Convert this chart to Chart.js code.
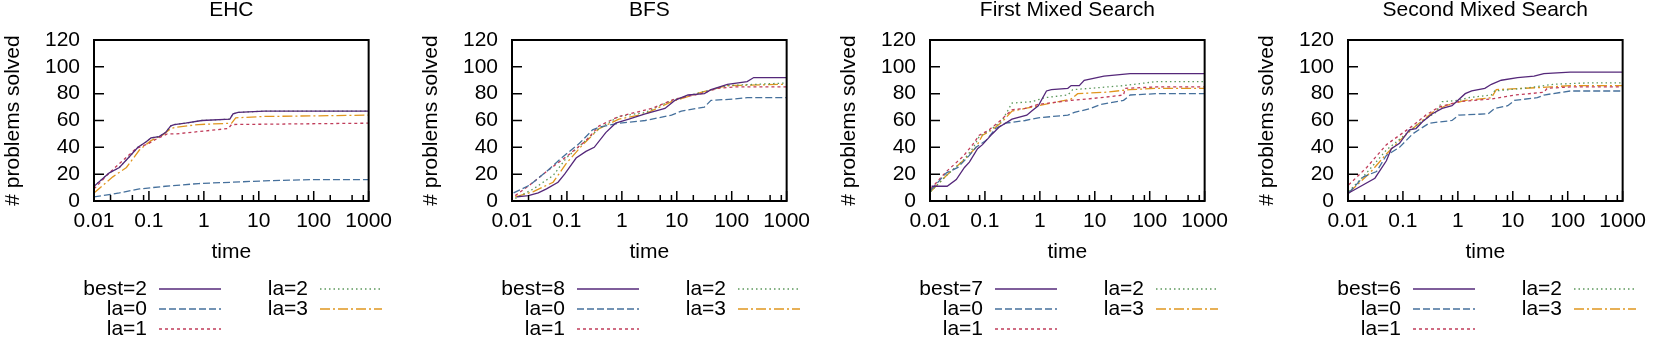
<!DOCTYPE html>
<html lang="en">
<head>
<meta charset="UTF-8">
<title>problems solved over time</title>
<script src="https://cdn.jsdelivr.net/npm/chart.js"></script>
<style>
  html, body { margin: 0; padding: 0; background: #fff; overflow: hidden; }
  .panel { position: absolute; top: 0; }
</style>
</head>
<body>
<div class="panel" style="left:0px"><canvas id="c0" width="400" height="338"></canvas></div>
<div class="panel" style="left:418px"><canvas id="c1" width="400" height="338"></canvas></div>
<div class="panel" style="left:836px"><canvas id="c2" width="400" height="338"></canvas></div>
<div class="panel" style="left:1254px"><canvas id="c3" width="400" height="338"></canvas></div>

<script>
const xTickValues = [0.01, 0.1, 1, 10, 100, 1000]
const xTickLabels = ['0.01', '0.1', '1', '10', '100', '1000']
const xMinorTicks = [0.02, 0.05, 0.08, 0.2, 0.5, 0.8, 2, 5, 8, 20, 50, 80, 200, 500, 800]
const yTickValues = [0, 20, 40, 60, 80, 100, 120]

const panelTitles = ['EHC', 'BFS', 'First Mixed Search', 'Second Mixed Search']
const ehcNames = ['best=2', 'la=0', 'la=1', 'la=2', 'la=3']
const bfsNames = ['best=8', 'la=0', 'la=1', 'la=2', 'la=3']
const fmNames = ['best=7', 'la=0', 'la=1', 'la=2', 'la=3']
const smNames = ['best=6', 'la=0', 'la=1', 'la=2', 'la=3']

// [time, problems solved]
const ehcBest = [[0.01,11],[0.019,21],[0.029,25],[0.044,33],[0.063,40],[0.088,44],[0.109,47],[0.153,48],[0.2,51],[0.25,56],[0.29,57],[0.46,58],[0.92,60],[2.97,61],[3.4,65],[4.2,66],[12.6,67],[1000,67]]
const ehcLa0 = [[0.01,3],[0.029,6],[0.067,9],[0.2,11],[0.8,13],[3.2,14],[12.6,15],[100,16],[1000,16]]
const ehcLa1 = [[0.01,9],[0.019,21],[0.058,39],[0.1,43],[0.134,46],[0.216,50],[0.31,50],[2.77,54],[3.2,57],[1000,58]]
const ehcLa2 = [[0.01,11],[0.019,21],[0.029,25],[0.044,33],[0.063,40],[0.088,44],[0.109,47],[0.153,48],[0.2,51],[0.25,56],[0.29,57],[0.46,58],[0.92,60],[2.97,61],[3.4,65],[4.2,66],[12.6,67],[1000,67]]
const ehcLa3 = [[0.01,6],[0.022,18],[0.039,25],[0.067,38],[0.109,45],[0.176,49],[0.25,54],[0.31,55],[0.8,57],[3.2,58],[3.8,62],[12.6,63],[1000,64]]

const bfsBest = [[0.0123,3],[0.0199,4],[0.0301,6],[0.0425,9],[0.0689,14],[0.0908,20],[0.147,32],[0.222,37],[0.314,40],[0.509,51],[0.769,58],[1.34,61],[2.66,65],[6.09,69],[9.2,75],[16,79],[31.8,80],[42,83],[83.6,87],[191,89],[252,92],[1000,92]]
const bfsLa0 = [[0.0107,6],[0.0213,12],[0.0425,22],[0.0848,33],[0.169,43],[0.293,53],[0.386,55],[0.883,58],[2.66,60],[8.02,64],[12.1,67],[31.8,70],[42,75],[110,76],[191,77],[1000,77]]
const bfsLa1 = [[0.0115,4],[0.0245,14],[0.0425,22],[0.0973,33],[0.222,45],[0.386,56],[0.883,63],[1.76,66],[3.51,69],[9.2,76],[27.7,80],[55.3,84],[110,85],[1000,85]]
const bfsLa2 = [[0.0115,2],[0.0245,9],[0.0561,19],[0.0973,32],[0.194,43],[0.386,54],[0.883,63],[2.66,66],[8.02,75],[27.7,81],[83.6,86],[1000,88]]
const bfsLa3 = [[0.0115,3],[0.0245,7],[0.0561,14],[0.0973,28],[0.194,42],[0.386,54],[0.883,61],[2.66,65],[8.02,74],[27.7,81],[83.6,86],[1000,87]]

const fmBest = [[0.0107,11],[0.0205,11],[0.0301,16],[0.0424,25],[0.0521,29],[0.0735,39],[0.0903,42],[0.136,50],[0.18,55],[0.311,61],[0.578,64],[0.711,67],[0.936,71],[1.32,82],[1.62,83],[3.23,84],[3.71,86],[5.22,86],[6.42,90],[14.7,93],[44,95],[1000,95]]
const fmLa0 = [[0.0103,8],[0.0199,21],[0.0322,25],[0.0521,34],[0.0686,40],[0.104,45],[0.157,54],[0.237,58],[0.54,60],[0.936,62],[3.23,64],[4.25,66],[8.46,69],[12.8,72],[33.4,75],[44,79],[132,80],[1000,80]]
const fmLa1 = [[0.0103,9],[0.0199,22],[0.0396,33],[0.0598,42],[0.0787,49],[0.119,53],[0.18,59],[0.311,68],[0.54,69],[0.936,72],[3.71,75],[12.8,77],[33.4,79],[35.8,84],[132,85],[1000,85]]
const fmLa2 = [[0.0103,7],[0.0199,19],[0.0396,30],[0.0598,39],[0.0787,48],[0.136,54],[0.206,60],[0.311,73],[0.711,74],[1.23,77],[3.23,79],[3.97,83],[8.46,84],[33.4,86],[132,89],[1000,89]]
const fmLa3 = [[0.0103,7],[0.0199,19],[0.0454,32],[0.0686,40],[0.0903,49],[0.136,53],[0.206,59],[0.311,67],[0.54,69],[1.23,72],[3.71,76],[4.88,80],[14.7,81],[44,83],[132,84],[1000,84]]

const smBest = [[0.0103,6],[0.0309,17],[0.05,30],[0.0615,39],[0.0867,43],[0.131,53],[0.173,54],[0.227,59],[0.343,65],[0.518,69],[0.783,71],[1.36,80],[1.79,82],[3.1,84],[4.08,87],[6.17,90],[12.2,92],[24.4,93],[36.8,95],[111,96],[1000,96]]
const smLa0 = [[0.0103,6],[0.0191,18],[0.0331,22],[0.05,34],[0.0867,40],[0.15,50],[0.299,58],[0.783,60],[1.03,64],[3.56,65],[4.68,69],[8.11,71],[10.7,75],[28,77],[36.8,79],[111,82],[1000,82]]
const smLa1 = [[0.0103,12],[0.0219,25],[0.05,42],[0.0867,49],[0.15,56],[0.261,64],[0.452,70],[1.03,74],[4.08,76],[10.7,79],[36.8,81],[42.3,84],[111,85],[1000,85]]
const smLa2 = [[0.0103,7],[0.0219,21],[0.05,38],[0.0995,48],[0.198,58],[0.394,66],[0.518,74],[1.03,75],[1.56,77],[4.08,79],[4.68,82],[16.1,84],[55.7,87],[220,88],[1000,88]]
const smLa3 = [[0.0103,6],[0.0251,21],[0.05,35],[0.0867,45],[0.173,56],[0.343,66],[0.594,71],[1.36,75],[4.08,77],[5.01,83],[16.1,84],[48.5,85],[111,86],[1000,86]]

const seriesColors = ['#55287a', '#45709c', '#c03c5a', '#5c985c', '#e0961f']
const seriesDashes = [[], [7, 3], [3, 3], [1.5, 3], [10, 3, 2, 3]]

const FONT = { family: '"Liberation Sans", Arial, sans-serif', size: 21 }

// gnuplot style frame with inward tics
const framePlugin = {
  id: 'frame',
  afterDatasetsDraw(chart) {
    const { ctx, chartArea: a, scales: { x, y } } = chart
    ctx.save()
    ctx.strokeStyle = '#000'
    ctx.lineWidth = 1.5
    ctx.beginPath()
    yTickValues.forEach(v => {
      const py = y.getPixelForValue(v)
      ctx.moveTo(a.left, py); ctx.lineTo(a.left + 10, py)
    })
    xTickValues.forEach(v => {
      const px = x.getPixelForValue(v)
      ctx.moveTo(px, a.bottom); ctx.lineTo(px, a.bottom - 10)
    })
    xMinorTicks.forEach(v => {
      const px = x.getPixelForValue(v)
      ctx.moveTo(px, a.bottom); ctx.lineTo(px, a.bottom - 6)
    })
    ctx.stroke()
    ctx.lineWidth = 2
    ctx.strokeRect(a.left, a.top, a.right - a.left, a.bottom - a.top)
    ctx.restore()
  }
}

// key below the plot: text then line sample, two columns
const keyPlugin = {
  id: 'key',
  afterDraw(chart) {
    const ctx = chart.ctx
    ctx.save()
    ctx.font = FONT.size + 'px ' + FONT.family
    ctx.textBaseline = 'middle'
    ctx.textAlign = 'right'
    chart.data.datasets.forEach((ds, i) => {
      const col = i < 3 ? 0 : 1
      const row = i < 3 ? i : i - 3
      const tx = col ? 308 : 147
      const ty = 289 + row * 20
      ctx.fillStyle = '#000'
      ctx.fillText(ds.label, tx, ty)
      ctx.strokeStyle = ds.borderColor
      ctx.lineWidth = ds.borderWidth
      ctx.setLineDash(ds.borderDash)
      ctx.beginPath()
      ctx.moveTo(tx + 12, ty)
      ctx.lineTo(tx + 74, ty)
      ctx.stroke()
    })
    ctx.restore()
  }
}

function makeChart(id, title, names, series) {
  return new Chart(document.getElementById(id), {
    type: 'line',
    data: {
      datasets: series.map((pts, i) => ({
        label: names[i],
        data: pts.map(p => ({ x: p[0], y: p[1] })),
        borderColor: seriesColors[i],
        borderDash: seriesDashes[i],
        borderWidth: 1.3,
        pointRadius: 0,
        fill: false,
        tension: 0
      }))
    },
    options: {
      responsive: false,
      animation: false,
      layout: { padding: { left: 0, right: 28, top: 0, bottom: 0 } },
      plugins: {
        legend: { display: false },
        tooltip: { enabled: false },
        title: {
          display: true, text: title, fullSize: false, color: '#000',
          font: { ...FONT, weight: 'normal', lineHeight: 1 },
          padding: { top: 0, bottom: 19 }
        }
      },
      scales: {
        x: {
          type: 'logarithmic', min: 0.01, max: 1000,
          afterBuildTicks: s => { s.ticks = xTickValues.map(v => ({ value: v })) },
          afterFit: s => { s.height = 137 },
          ticks: { callback: (v, i) => xTickLabels[i], autoSkip: false, maxRotation: 0, padding: 8, color: '#000', font: FONT },
          grid: { display: false, drawTicks: false },
          border: { display: false },
          title: { display: true, text: 'time', color: '#000', font: FONT, padding: { top: 0, bottom: 73 } }
        },
        y: {
          min: 0, max: 120,
          afterBuildTicks: s => { s.ticks = yTickValues.map(v => ({ value: v })) },
          afterFit: s => { s.width = 94 },
          ticks: { autoSkip: false, padding: 14, color: '#000', font: FONT },
          grid: { display: false, drawTicks: false },
          border: { display: false },
          title: { display: true, text: '# problems solved', color: '#000', font: FONT, padding: { top: 1, bottom: 0 } }
        }
      }
    },
    plugins: [framePlugin, keyPlugin]
  })
}

makeChart('c0', panelTitles[0], ehcNames, [ehcBest, ehcLa0, ehcLa1, ehcLa2, ehcLa3])
makeChart('c1', panelTitles[1], bfsNames, [bfsBest, bfsLa0, bfsLa1, bfsLa2, bfsLa3])
makeChart('c2', panelTitles[2], fmNames, [fmBest, fmLa0, fmLa1, fmLa2, fmLa3])
makeChart('c3', panelTitles[3], smNames, [smBest, smLa0, smLa1, smLa2, smLa3])
</script>
</body>
</html>
